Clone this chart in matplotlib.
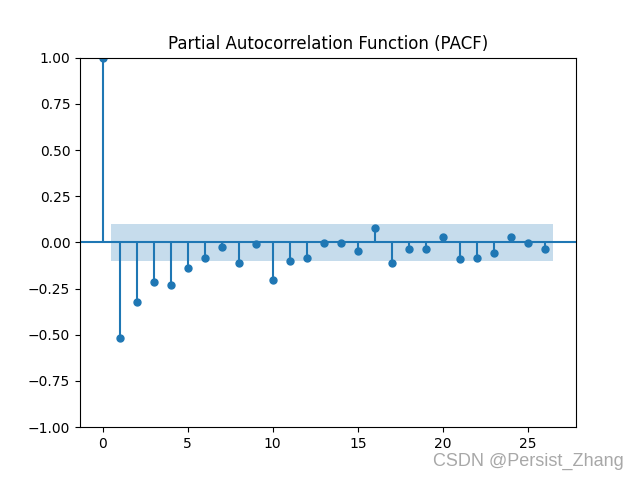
import matplotlib
matplotlib.use("Agg")
from matplotlib import pyplot as plt
import numpy as np

lags = np.arange(27)
pacf_vals = [1.0, -0.520, -0.325, -0.212, -0.228, -0.136, -0.082, -0.027, -0.109,
             -0.011, -0.206, -0.098, -0.087, -0.005, -0.005, -0.049, 0.077, -0.114,
             -0.038, -0.038, 0.029, -0.092, -0.082, -0.060, 0.028, -0.005, -0.038]
conf_half = 0.102

fig, ax = plt.subplots(figsize=(6.4, 4.8), dpi=100)

# stems, zero line, markers (statsmodels style)
ax.vlines(lags, [0], pacf_vals)
ax.axhline()
ax.plot(lags, pacf_vals, "o", markersize=5, color="C0")

# confidence band, shifted half a lag at the ends
band_x = lags[1:].astype(float)
band_x[0] -= 0.5
band_x[-1] += 0.5
ax.fill_between(band_x, -conf_half, conf_half, alpha=0.25, linewidth=0)

ax.set_ylim(-1, 1)
ax.set_title("Partial Autocorrelation Function (PACF)")

fig.text(0.975, 0.038, "CSDN @Persist_Zhang", ha="right", va="center",
         fontsize=13, color="#a8a8a8", family="Liberation Sans")

fig.savefig("out.png")
